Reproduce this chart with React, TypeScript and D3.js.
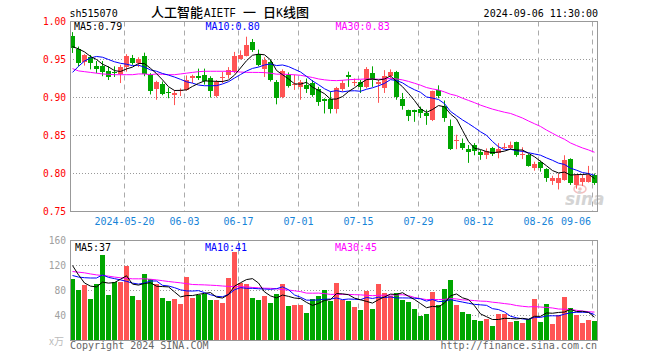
import React from "react";
import * as d3 from "d3";

// ---- data ----
const opens = [
  0.9805, 0.964, 0.947, 0.953, 0.942, 0.942, 0.935, 0.933, 0.931, 0.940,
  0.952, 0.946, 0.955, 0.929, 0.911, 0.918, 0.907, 0.903, 0.908, 0.910,
  0.925, 0.928, 0.930, 0.925, 0.902, 0.925, 0.930, 0.933, 0.951, 0.955,
  0.973, 0.957, 0.938, 0.947, 0.921, 0.900, 0.930, 0.917, 0.914, 0.916,
  0.919, 0.911, 0.8976, 0.8976, 0.885, 0.911, 0.930, 0.919, 0.921, 0.914,
  0.932, 0.918, 0.912, 0.928, 0.934, 0.898, 0.883, 0.883, 0.885, 0.880,
  0.870, 0.910, 0.889, 0.862, 0.843, 0.840, 0.832, 0.837, 0.828, 0.824,
  0.833, 0.827, 0.833, 0.833, 0.842, 0.825, 0.824, 0.8077, 0.8155, 0.806,
  0.7905, 0.788, 0.7915, 0.819, 0.785, 0.789, 0.789, 0.798,
];
const highs = [
  0.986, 0.967, 0.957, 0.956, 0.948, 0.948, 0.941, 0.941, 0.943, 0.957,
  0.956, 0.953, 0.959, 0.932, 0.922, 0.921, 0.913, 0.910, 0.912, 0.929,
  0.930, 0.938, 0.938, 0.928, 0.923, 0.934, 0.940, 0.960, 0.962, 0.980,
  0.977, 0.963, 0.953, 0.950, 0.923, 0.937, 0.933, 0.930, 0.923, 0.925,
  0.923, 0.914, 0.899, 0.908, 0.914, 0.923, 0.934, 0.925, 0.923, 0.940,
  0.941, 0.923, 0.936, 0.937, 0.935, 0.906, 0.884, 0.884, 0.888, 0.884,
  0.909, 0.916, 0.896, 0.871, 0.851, 0.846, 0.8375, 0.840, 0.831, 0.833,
  0.835, 0.840, 0.840, 0.842, 0.842, 0.8345, 0.8255, 0.8155, 0.817, 0.807,
  0.797, 0.800, 0.824, 0.820, 0.799, 0.799, 0.810, 0.800,
];
const lows = [
  0.9586, 0.941, 0.942, 0.937, 0.932, 0.928, 0.923, 0.927, 0.919, 0.934,
  0.943, 0.940, 0.928, 0.904, 0.897, 0.903, 0.899, 0.890, 0.902, 0.909,
  0.919, 0.923, 0.917, 0.900, 0.900, 0.919, 0.925, 0.932, 0.950, 0.954,
  0.960, 0.941, 0.927, 0.921, 0.891, 0.899, 0.913, 0.910, 0.897, 0.906,
  0.901, 0.889, 0.879, 0.879, 0.879, 0.908, 0.914, 0.915, 0.906, 0.912,
  0.914, 0.893, 0.906, 0.925, 0.897, 0.884, 0.869, 0.868, 0.873, 0.864,
  0.869, 0.899, 0.868, 0.831, 0.832, 0.831, 0.814, 0.824, 0.818, 0.819,
  0.823, 0.820, 0.832, 0.832, 0.822, 0.819, 0.809, 0.8037, 0.8024, 0.789,
  0.785, 0.779, 0.7905, 0.785, 0.780, 0.7836, 0.788, 0.785,
];
const closes = [
  0.965, 0.945, 0.956, 0.946, 0.938, 0.934, 0.927, 0.932, 0.940, 0.955,
  0.946, 0.951, 0.931, 0.909, 0.920, 0.905, 0.906, 0.906, 0.910, 0.923,
  0.928, 0.926, 0.922, 0.909, 0.921, 0.927, 0.936, 0.954, 0.956, 0.969,
  0.963, 0.943, 0.950, 0.923, 0.899, 0.935, 0.915, 0.918, 0.921, 0.911,
  0.903, 0.894, 0.896, 0.885, 0.912, 0.919, 0.927, 0.921, 0.914, 0.937,
  0.923, 0.920, 0.928, 0.934, 0.900, 0.889, 0.876, 0.881, 0.880, 0.876,
  0.908, 0.902, 0.873, 0.832, 0.844, 0.833, 0.828, 0.829, 0.824, 0.830,
  0.826, 0.832, 0.835, 0.8375, 0.824, 0.826, 0.810, 0.8125, 0.8077, 0.7945,
  0.7945, 0.7945, 0.818, 0.788, 0.798, 0.7945, 0.798, 0.788,
];
const volumes = [
  99.2, 81.6, 89.6, 67.2, 91.2, 137.6, 73.6, 93.9, 93.9, 118.9,
  70.9, 65.6, 107.2, 99.2, 91.2, 68.3, 62.9, 67.2, 59.2, 101.9,
  68.3, 72.5, 75.2, 65.6, 65.6, 60.8, 100.8, 141.9, 92.8, 91.2,
  68.3, 65.6, 70.9, 60.8, 75.2, 91.2, 54.9, 57.6, 56.5, 44.8,
  67.2, 70.9, 81.6, 62.9, 92.8, 65, 64, 54.4, 49.6, 80,
  51.2, 91.2, 76.8, 72, 76.8, 65.6, 62.4, 51.2, 39.5, 43.2,
  77, 57.6, 83, 97, 57.6, 46.4, 43.2, 33.6, 32, 35.2,
  24, 43.2, 43.2, 30.4, 32, 28.8, 35.2, 67.2, 30, 59.2,
  26.5, 41.6, 70.4, 52, 41, 28.8, 32.8, 32,
];

// moving-average values shown before enough bars exist in the window
const ma5Head = [0.967, 0.964, 0.96, 0.954];
const ma10Head = [0.933, 0.941, 0.948, 0.952, 0.954, 0.953, 0.95, 0.947, 0.945];
const ma30Head = [
  0.938, 0.935, 0.934, 0.933, 0.932, 0.931, 0.9305, 0.93, 0.93, 0.93,
  0.93, 0.931, 0.931, 0.93, 0.931, 0.9305, 0.93, 0.93, 0.931, 0.932,
  0.933, 0.934, 0.9345, 0.9345, 0.9345, 0.9345, 0.9345, 0.934, 0.9335,
];
const vma5Head = [120, 105, 92, 87];
const vma10Head = [104, 101.5, 100.5, 100, 100, 105, 101, 99, 97];
const vma30Head = [
  110.4, 109.3, 108.3, 106.5, 105, 104, 103, 101.5, 100.3, 99.5,
  98.7, 98.7, 98.7, 98, 97, 95.7, 94.4, 93.3, 92.3, 91,
  89.6, 89.3, 89, 88.5, 88, 87.2, 86.6, 86.2, 86,
];

const tickIndex = [9, 19, 28, 38, 48, 58, 68, 78, 87];
const tickLabels = ["2024-05-20", "06-03", "06-17", "07-01", "07-15", "07-29", "08-12", "08-26", "09-06"];
const priceTicks = [0.75, 0.8, 0.85, 0.9, 0.95, 1.0];
const priceGrid = [0.8, 0.85, 0.9, 0.95];
const volTicks = [40, 80, 120, 160];
const volGrid = [40, 80, 120];

// ---- layout ----
const W = 660;
const H = 360;
const L = 70;
const R = 597.5;
const PT = 21.5;
const PB = 211.5;
const VT = 240.5;
const VB = 340.5;

const RED = "#ff5454";
const GREEN = "#00a600";
const MONO = "DejaVu Sans Mono, monospace";

function movingAvg(arr: number[], n: number, head: number[]): number[] {
  return arr.map((_, i) => (i >= n - 1 ? (d3.mean(arr.slice(i - n + 1, i + 1)) as number) : head[i]));
}

export default function App() {
  const n = closes.length;
  const x = d3.scaleLinear().domain([0, 88]).range([70, 598]);
  const yP = d3.scaleLinear().domain([0.75, 1.0]).range([PB, PT]);
  const yV = d3.scaleLinear().domain([0, 160]).range([VB, VT]);

  const ma5 = movingAvg(closes, 5, ma5Head);
  const ma10 = movingAvg(closes, 10, ma10Head);
  const ma30 = movingAvg(closes, 30, ma30Head);
  const vma5 = movingAvg(volumes, 5, vma5Head);
  const vma10 = movingAvg(volumes, 10, vma10Head);
  const vma30 = movingAvg(volumes, 30, vma30Head);

  const lineP = d3
    .line<number>()
    .x((_, i) => x(i) + 2.5)
    .y((v) => yP(v));
  const lineV = d3
    .line<number>()
    .x((_, i) => x(i) + 2.5)
    .y((v) => yV(v));

  const up = (i: number) => closes[i] >= opens[i];

  return (
    <svg
      width={W}
      height={H}
      viewBox={`0 0 ${W} ${H}`}
      style={{ position: "absolute", left: 0, top: 0, background: "#fff" }}
      fontFamily={MONO}
    >
      <rect x={0} y={0} width={W} height={H} fill="#fff" />

      {/* header */}
      <text x={69.5} y={16.5} fontSize={10} fill="#000">sh515070</text>
      <text y={17} fontSize={13} fill="#000" fontFamily="Noto Sans CJK SC" fontWeight={500}>
        <tspan x={151}>人工智能</tspan>
        <tspan x={204} fontFamily="Liberation Mono" fontSize={12.5} textLength={32} lengthAdjust="spacingAndGlyphs">AIETF</tspan>
        <tspan x={243}>一</tspan>
        <tspan x={263}>日</tspan>
        <tspan x={276} fontFamily="Liberation Mono" fontSize={12.5} textLength={7} lengthAdjust="spacingAndGlyphs">K</tspan>
        <tspan x={283}>线图</tspan>
      </text>
      <text x={598} y={16.5} fontSize={10} fill="#000" textAnchor="end">2024-09-06 11:30:00</text>

      {/* price grid */}
      {priceGrid.map((v) => (
        <line key={"pg" + v} x1={L} x2={R} y1={yP(v)} y2={yP(v)} stroke="#999" strokeDasharray="1,2" />
      ))}
      {tickIndex.map((t) => (
        <line key={"pv" + t} x1={x(t) + 0.5} x2={x(t) + 0.5} y1={PT} y2={PB} stroke="#aaa" strokeDasharray="5,4" />
      ))}
      {/* volume grid */}
      {volGrid.map((v) => (
        <line key={"vg" + v} x1={L} x2={R} y1={yV(v)} y2={yV(v)} stroke="#999" strokeDasharray="1,2" />
      ))}
      {tickIndex.map((t) => (
        <line key={"vv" + t} x1={x(t) + 0.5} x2={x(t) + 0.5} y1={VT} y2={VB} stroke="#aaa" strokeDasharray="5,4" />
      ))}

      {/* sina watermark */}
      <g opacity={0.9}>
        <ellipse cx={580} cy={189} rx={6} ry={4} fill="none" stroke="#f2b8b8" strokeWidth={1.5} />
        <circle cx={580} cy={189} r={1.8} fill="#f2b8b8" />
        <text x={565} y={205} fontSize={17} fontStyle="italic" fontWeight="bold" fill="#d0d0d0" fontFamily="DejaVu Sans">
          sina
        </text>
      </g>

      {/* candles */}
      {closes.map((c, i) => {
        const o = opens[i];
        const col = up(i) ? RED : GREEN;
        const top = Math.round(yP(Math.max(o, c)));
        const bot = Math.round(yP(Math.min(o, c)));
        const cx = x(i) + 2.5;
        return (
          <g key={"c" + i}>
            <line x1={cx} x2={cx} y1={yP(highs[i])} y2={yP(lows[i])} stroke={col} strokeWidth={1} />
            <rect x={x(i)} y={top} width={5} height={Math.max(1, bot - top)} fill={col} />
          </g>
        );
      })}

      {/* price MAs */}
      <path d={lineP(ma30) || ""} fill="none" stroke="#ff00ff" strokeWidth={1} />
      <path d={lineP(ma10) || ""} fill="none" stroke="#0000ff" strokeWidth={1} />
      <path d={lineP(ma5) || ""} fill="none" stroke="#000" strokeWidth={1} />

      {/* volume bars */}
      {volumes.map((v, i) => (
        <rect
          key={"v" + i}
          x={x(i)}
          y={Math.round(yV(v))}
          width={5}
          height={VB - Math.round(yV(v))}
          fill={up(i) ? RED : GREEN}
        />
      ))}
      <path d={lineV(vma30) || ""} fill="none" stroke="#ff00ff" strokeWidth={1} />
      <path d={lineV(vma10) || ""} fill="none" stroke="#0000ff" strokeWidth={1} />
      <path d={lineV(vma5) || ""} fill="none" stroke="#000" strokeWidth={1} />

      {/* frames */}
      <rect x={L + 0.5} y={PT} width={R - L - 0.5} height={PB - PT} fill="none" stroke="#999" strokeWidth={1} />
      <rect x={L + 0.5} y={VT} width={R - L - 0.5} height={VB - VT} fill="none" stroke="#999" strokeWidth={1} />

      {/* price axis labels */}
      {priceTicks.map((v) => (
        <text key={"pl" + v} x={66} y={yP(v) + 3.3} fontSize={9.6} fill="#ff0000" textAnchor="end">
          {v.toFixed(2)}
        </text>
      ))}
      {/* date labels */}
      {tickIndex.map((t, k) => (
        <text
          key={"dl" + t}
          x={k === tickIndex.length - 1 ? 591 : x(t) + 0.5}
          y={225}
          fontSize={10}
          fill="#1784d8"
          textAnchor={k === tickIndex.length - 1 ? "end" : "middle"}
        >
          {tickLabels[k]}
        </text>
      ))}
      {/* volume axis labels */}
      {volTicks.map((v) => (
        <text key={"vl" + v} x={66} y={yV(v) + 3.3} fontSize={9.6} fill="#a0a0a0" textAnchor="end">
          {v}
        </text>
      ))}
      <text x={64} y={345} fontSize={10} fill="#bbbbbb" textAnchor="end" fontFamily="Noto Sans CJK SC">x万</text>

      {/* legends */}
      <text x={74} y={29.5} fontSize={10} fill="#000">{"MA5:" + ma5[n - 1].toFixed(2)}</text>
      <text x={205.5} y={29.5} fontSize={10} fill="#0000ff">{"MA10:" + ma10[n - 1].toFixed(2)}</text>
      <text x={335.5} y={29.5} fontSize={10} fill="#ff00ff">{"MA30:" + ma30[n - 1].toFixed(2)}</text>
      <text x={75} y={250.5} fontSize={10} fill="#000">{"MA5:" + Math.round(vma5[n - 1])}</text>
      <text x={205} y={250.5} fontSize={10} fill="#0000ff">{"MA10:" + Math.round(vma10[n - 1])}</text>
      <text x={335} y={250.5} fontSize={10} fill="#ff00ff">{"MA30:" + Math.round(vma30[n - 1])}</text>

      {/* footer */}
      <text x={70} y={349} fontSize={10} fill="#666">Copyright 2024 SINA.COM</text>
      <text x={597} y={349} fontSize={10} fill="#666" textAnchor="end">http://finance.sina.com.cn</text>
    </svg>
  );
}
